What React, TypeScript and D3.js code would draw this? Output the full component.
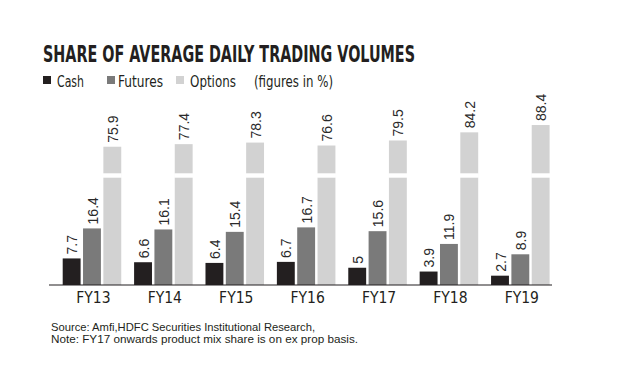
import React from "react";
import * as d3 from "d3";

const categories = ["FY13", "FY14", "FY15", "FY16", "FY17", "FY18", "FY19"];
const seriesNames = ["Cash", "Futures", "Options"];
const cash = [7.7, 6.6, 6.4, 6.7, 5, 3.9, 2.7];
const futures = [16.4, 16.1, 15.4, 16.7, 15.6, 11.9, 8.9];
const options = [75.9, 77.4, 78.3, 76.6, 79.5, 84.2, 88.4];
const colors = ["#231f20", "#7a7a7a", "#d2d2d2"];
const title = "SHARE OF AVERAGE DAILY TRADING VOLUMES";
const unitNote = "(figures in %)";
const sourceLines = [
  "Source: Amfi,HDFC Securities Institutional Research,",
  "Note: FY17 onwards product mix share is on ex prop basis.",
];

// broken axis: lower segment [0, breakLow], gap, upper segment [breakHigh, 100]
const breakLow = 31.1;
const breakHigh = 60.6;

const W = 620;
const H = 376;
const narrow = "'Liberation Sans Narrow', 'DejaVu Sans Condensed', 'Roboto Condensed', sans-serif";
const regular = "'Liberation Sans', 'Noto Sans', sans-serif";

export default function App() {
  const seriesValues = [cash, futures, options];
  const x0 = d3.scaleBand<string>().domain(categories).range([62.7, 549.6]).paddingInner(0.18).paddingOuter(0);
  const x1 = d3.scaleBand<string>().domain(seriesNames).range([0, x0.bandwidth()]).paddingInner(0.12);
  const y = d3
    .scaleLinear()
    .domain([0, breakLow, breakHigh, 100])
    .range([285, 177.7, 173.3, 173.3 - (100 - breakHigh) * 1.736]);

  const legendX = [43, 107, 176];
  const legendTextX = [57, 118, 190];
  const legendW = [27, 45, 46];

  return (
    <svg width={W} height={H} style={{ position: "absolute", left: 0, top: 0, background: "#fff" }}>
      <rect x={0} y={0} width={W} height={H} fill="#fff" />
      <text x={43} y={61.5} fontFamily={narrow} fontWeight="bold" fontSize={22.5} fill="#231f20" textLength={372} lengthAdjust="spacingAndGlyphs">
        {title}
      </text>
      {seriesNames.map((s, i) => (
        <g key={s}>
          <rect x={legendX[i]} y={76} width={8} height={8} fill={colors[i]} />
          <text x={legendTextX[i]} y={87} fontFamily={narrow} fontSize={15.5} fill="#231f20" textLength={legendW[i]} lengthAdjust="spacingAndGlyphs">
            {s}
          </text>
        </g>
      ))}
      <text x={254} y={87} fontFamily={narrow} fontSize={15.5} fill="#231f20" textLength={79} lengthAdjust="spacingAndGlyphs">
        {unitNote}
      </text>

      {categories.map((c, ci) => (
        <g key={c} transform={`translate(${x0(c)},0)`}>
          {seriesNames.map((s, si) => {
            const v = seriesValues[si][ci];
            const bx = x1(s)!;
            const bw = x1.bandwidth();
            const top = y(v);
            const cx = bx + bw / 2;
            return (
              <g key={s}>
                <rect x={bx} y={top} width={bw} height={y(0) - top} fill={colors[si]} />
                {v > breakHigh && (
                  <rect x={bx - 0.5} y={y(breakHigh)} width={bw + 1} height={y(breakLow) - y(breakHigh)} fill="#fff" />
                )}
                <text
                  transform={`translate(${cx + 0.5},${top - 4}) rotate(-90)`}
                  dy="0.36em"
                  fontFamily={regular}
                  fontSize={14}
                  fill="#2a2a2a"
                >
                  {String(v)}
                </text>
              </g>
            );
          })}
          <text x={x0.bandwidth() / 2 + 1.5} y={303} textAnchor="middle" fontFamily={narrow} fontSize={15.5} fill="#231f20">
            {c}
          </text>
        </g>
      ))}
      <line x1={49} x2={552} y1={285} y2={285} stroke="#231f20" strokeWidth={1.2} />

      {sourceLines.map((t, i) => (
        <text key={i} x={51} y={330.5 + i * 12.5} fontFamily={regular} fontSize={11} fill="#231f20" textLength={i === 0 ? 264 : 307} lengthAdjust="spacingAndGlyphs">
          {t}
        </text>
      ))}
    </svg>
  );
}
